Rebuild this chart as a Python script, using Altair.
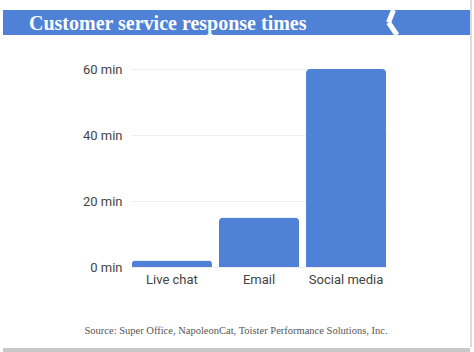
import altair as alt
import pandas as pd

categories = ["Live chat", "Email", "Social media"]
values = [2, 15, 60]
y_ticks = [0, 20, 40, 60]
title_text = "Customer service response times"
source_text = "Source: Super Office, NapoleonCat, Toister Performance Solutions, Inc."

df = pd.DataFrame({"channel": categories, "minutes": values})
one = pd.DataFrame({"k": [0]})

BLUE = "#4f81d6"

bars = alt.Chart(df).mark_bar(color=BLUE, cornerRadiusTopLeft=4, cornerRadiusTopRight=4).encode(
    x=alt.X("channel:N", sort=categories,
            scale=alt.Scale(paddingInner=0.08, paddingOuter=0.01),
            axis=alt.Axis(title=None, labelAngle=0, ticks=False, domain=False,
                          labelPadding=6, labelFontSize=13, labelColor="#444",
                          labelFont="Roboto")),
    y=alt.Y("minutes:Q", scale=alt.Scale(domain=[0, 60]),
            axis=alt.Axis(title=None, values=y_ticks, labelExpr="datum.value + ' min'",
                          ticks=False, domain=False, labelPadding=9, labelFontSize=13,
                          labelColor="#444", labelFont="Roboto",
                          gridColor="#eeeeee")),
)

banner = alt.Chart(one).mark_rect(color=BLUE).encode(
    x=alt.value(-128), x2=alt.value(339), y=alt.value(-59), y2=alt.value(-34)
)
chev1 = alt.Chart(one).mark_rule(color="white", strokeWidth=5).encode(
    x=alt.value(262.5), y=alt.value(-59), x2=alt.value(257.5), y2=alt.value(-46.5)
)
chev2 = alt.Chart(one).mark_rule(color="white", strokeWidth=5).encode(
    x=alt.value(257.5), y=alt.value(-46.5), x2=alt.value(266), y2=alt.value(-34)
)
title = alt.Chart(one).mark_text(text=title_text, font="Liberation Serif", fontWeight="bold",
                                 fontSize=20, color="white", align="left",
                                 baseline="alphabetic").encode(
    x=alt.value(-102), y=alt.value(-39)
)
source = alt.Chart(one).mark_text(text=source_text, font="Liberation Serif", fontSize=10.5,
                                  color="#555", align="center",
                                  baseline="alphabetic").encode(
    x=alt.value(105), y=alt.value(265)
)
vline = alt.Chart(one).mark_rule(color="#d0d0d0", strokeWidth=1.5).encode(
    x=alt.value(340), y=alt.value(-69), y2=alt.value(278)
)
bottom = alt.Chart(one).mark_rect(color="#c8c8c8").encode(
    x=alt.value(-128), x2=alt.value(339), y=alt.value(279), y2=alt.value(283)
)

chart = alt.layer(banner, chev1, chev2, title, bars, source, vline, bottom).properties(
    width=256, height=198,
    autosize=alt.AutoSizeParams(type="none"),
    padding={"left": 131, "top": 69, "right": 87, "bottom": 85},
    background="white",
).configure_view(stroke=None)

chart.save("out.html", embed_options={"renderer": "svg", "actions": False})
